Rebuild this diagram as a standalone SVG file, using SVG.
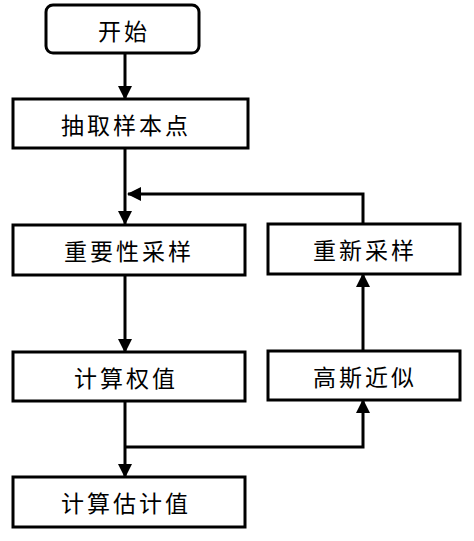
<svg xmlns="http://www.w3.org/2000/svg" width="474" height="541" viewBox="0 0 474 541">
<defs>
<marker id="ah" markerWidth="14" markerHeight="14" refX="13" refY="7" orient="auto" markerUnits="userSpaceOnUse">
<path d="M0,0 L14,7 L0,14 Z" fill="#000"/>
</marker>
<style>
.box{fill:#fff;stroke:#000;stroke-width:3}
.t{font-family:"Noto Sans CJK SC","Noto Sans CJK JP",sans-serif;font-size:23px;fill:#000;text-anchor:middle;dominant-baseline:central;letter-spacing:3px}
.c{fill:none;stroke:#000;stroke-width:3}
</style>
</defs>
<rect width="474" height="541" fill="#fff"/>
<g id="connectors">
<line class="c" x1="125" y1="53" x2="125" y2="99" marker-end="url(#ah)"/>
<line class="c" x1="125" y1="148" x2="125" y2="224" marker-end="url(#ah)"/>
<polyline class="c" points="363,224 363,194 128,194" marker-end="url(#ah)"/>
<line class="c" x1="125" y1="275" x2="125" y2="352" marker-end="url(#ah)"/>
<line class="c" x1="363" y1="351" x2="363" y2="274" marker-end="url(#ah)"/>
<line class="c" x1="125" y1="401" x2="125" y2="477" marker-end="url(#ah)"/>
<polyline class="c" points="125,447 363,447 363,400" marker-end="url(#ah)"/>
</g>
<g id="start"><rect class="box" x="46" y="5" width="153" height="48" rx="7"/><text class="t" x="124" y="30">开始</text></g>
<g id="sample"><rect class="box" x="13" y="99" width="235" height="49"/><text class="t" x="126" y="124">抽取样本点</text></g>
<g id="importance"><rect class="box" x="13" y="225" width="232" height="50"/><text class="t" x="129" y="250">重要性采样</text></g>
<g id="resample"><rect class="box" x="268" y="224" width="192" height="50"/><text class="t" x="365" y="249">重新采样</text></g>
<g id="weights"><rect class="box" x="13" y="352" width="232" height="49"/><text class="t" x="126" y="377">计算权值</text></g>
<g id="gauss"><rect class="box" x="268" y="351" width="192" height="49"/><text class="t" x="365" y="376">高斯近似</text></g>
<g id="estimate"><rect class="box" x="13" y="477" width="232" height="50"/><text class="t" x="126" y="502">计算估计值</text></g>
</svg>
